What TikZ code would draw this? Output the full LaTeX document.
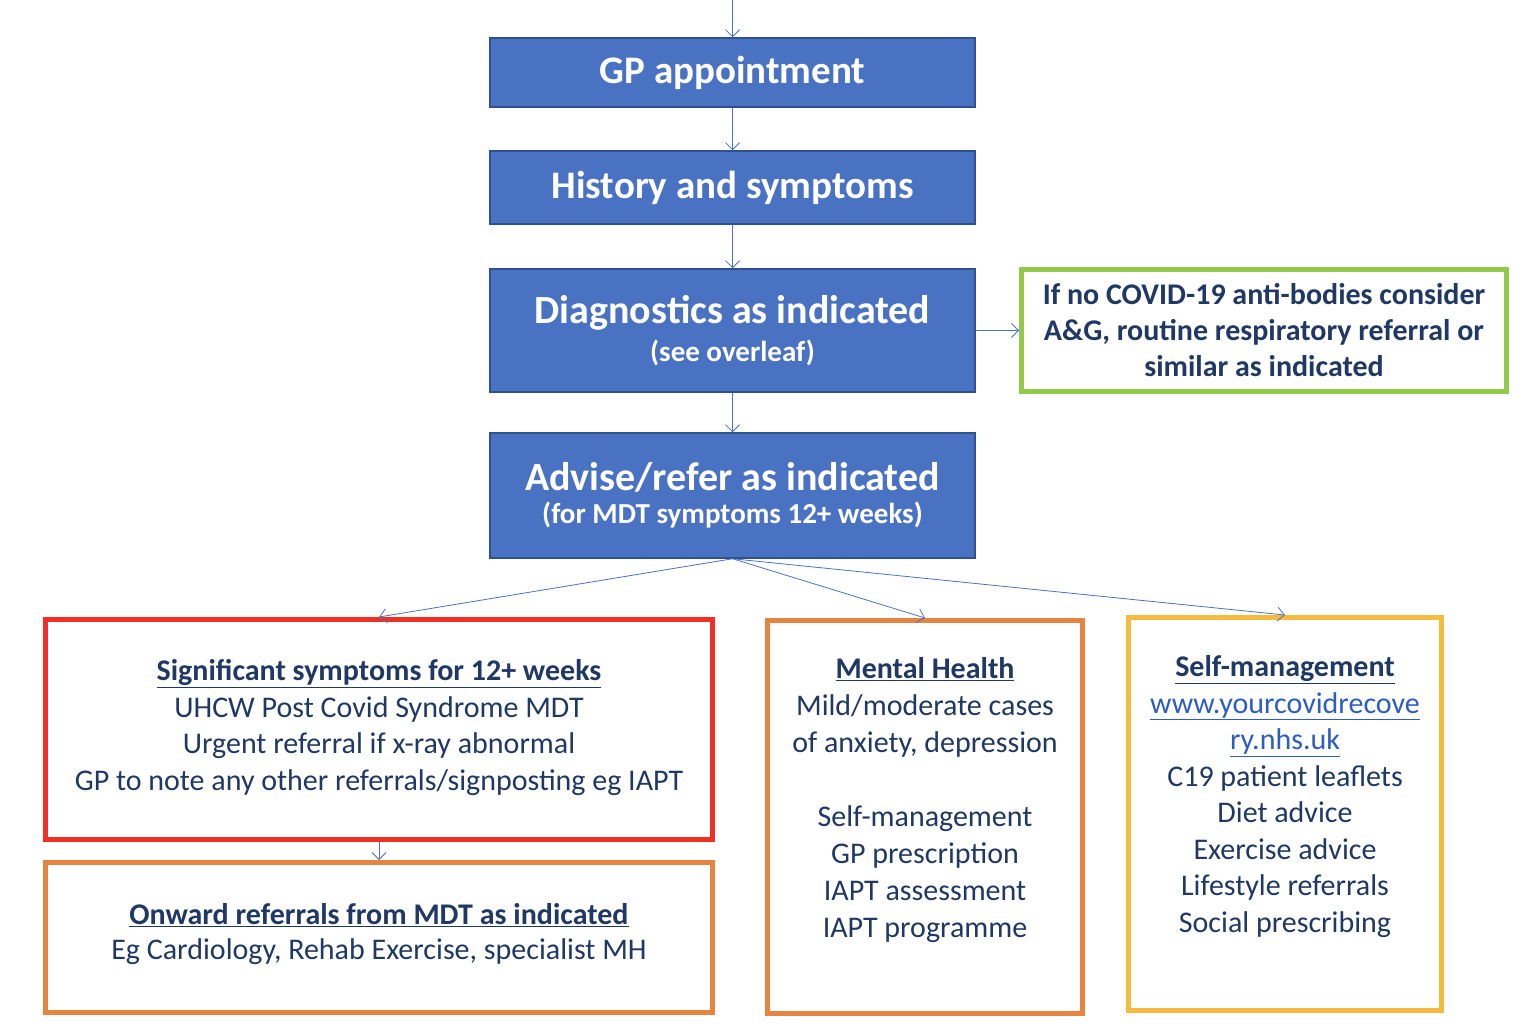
\documentclass[tikz,border=0pt]{standalone}
\usepackage{fontspec}
\setmainfont{Carlito}
\usetikzlibrary{arrows.meta}
\definecolor{bfill}{HTML}{4A72C2}
\definecolor{bdraw}{HTML}{2F528F}
\definecolor{navy}{HTML}{1F3864}
\definecolor{gr}{HTML}{92C94A}
\definecolor{rd}{HTML}{EE3124}
\definecolor{og}{HTML}{E58540}
\definecolor{yl}{HTML}{F4BB3E}
\definecolor{lnk}{HTML}{2B5DC4}
\definecolor{arr}{HTML}{4A72C2}
\begin{document}
\begin{tikzpicture}[x=1pt,y=-1pt,
 blue box/.style={draw=bdraw,line width=1.5pt,fill=bfill,text=white,font=\bfseries,align=center,inner sep=0},
 out box/.style={draw=#1,line width=5pt,text=navy,align=center,inner sep=0},
 txt/.style={text=navy,align=center,font=\fontsize{30}{37}\selectfont,anchor=north},
 arrow/.style={draw=arr,line width=0.8pt,-{Straight Barb[length=7pt,width=14pt,line width=0.8pt]}}]
\useasboundingbox (0,0) rectangle (1536,1032);
\fill[white] (0,0) rectangle (1536,1032);
\node[blue box,minimum width=485pt,minimum height=69pt] (gp) at (732.5,72.5) {\fontsize{39}{44}\selectfont GP appointment};
\node[blue box,minimum width=485pt,minimum height=73pt] (hist) at (732.5,187.5) {\fontsize{39}{44}\selectfont History and symptoms};
\node[blue box,minimum width=485pt,minimum height=123pt] (diag) at (732.5,330.5) {\fontsize{40}{44}\selectfont Diagnostics as indicated\\[9pt]\fontsize{29}{30}\selectfont (see overleaf)};
\node[blue box,minimum width=485pt,minimum height=125pt] (adv) at (732.5,495.5) {\fontsize{40}{44}\selectfont Advise/refer as indicated\\[9pt]\fontsize{29}{30}\selectfont (for MDT symptoms 12+ weeks)};
\node[out box=gr,minimum width=485pt,minimum height=122pt,font=\bfseries\fontsize{30}{36}\selectfont] (green) at (1264,330.5) {If no COVID-19 anti-bodies consider\\A\&G, routine respiratory referral or\\similar as indicated};
\node[out box=rd,minimum width=667pt,minimum height=220pt] (sig) at (379,729.5) {};
\node[txt,font=\fontsize{30}{36.5}\selectfont] at (379,656) {\textbf{\underline{Significant symptoms for 12+ weeks}}\\UHCW Post Covid Syndrome MDT\\Urgent referral if x-ray abnormal\\GP to note any other referrals/signposting eg IAPT};
\node[out box=og,minimum width=667pt,minimum height=150pt] (onw) at (379,937.5) {};
\node[txt,font=\fontsize{30}{35}\selectfont] at (379,900) {\textbf{\underline{Onward referrals from MDT as indicated}}\\Eg Cardiology, Rehab Exercise, specialist MH};
\node[out box=og,minimum width=315pt,minimum height=393pt,anchor=north] (mh) at (925,618) {};
\node[txt] at (925,654) {\textbf{\underline{Mental Health}}\\Mild/moderate cases\\of anxiety, depression\\ \\Self-management\\GP prescription\\IAPT assessment\\IAPT programme};
\node[out box=yl,minimum width=313pt,minimum height=393pt,anchor=north] (self) at (1285,615) {};
\node[txt,font=\fontsize{30}{36.5}\selectfont] at (1285,652) {\textbf{\underline{Self-management}}\\\textcolor{lnk}{\underline{www.yourcovidrecove}}\\\textcolor{lnk}{\underline{ry.nhs.uk}}\\C19 patient leaflets\\Diet advice\\Exercise advice\\Lifestyle referrals\\Social prescribing};
\coordinate (top) at (732.5,0);
\draw[arrow] (top) -- (gp.north);
\draw[arrow] (gp.south) -- (hist.north);
\draw[arrow] (hist.south) -- (diag.north);
\draw[arrow] (diag.south) -- (adv.north);
\draw[arrow] (diag.east) -- (green.west);
\draw[arrow] (adv.south) -- (sig.north);
\draw[arrow] (adv.south) -- (mh.north);
\draw[arrow] (adv.south) -- (self.north);
\draw[arrow] (sig.south) -- (onw.north);
\end{tikzpicture}
\end{document}
